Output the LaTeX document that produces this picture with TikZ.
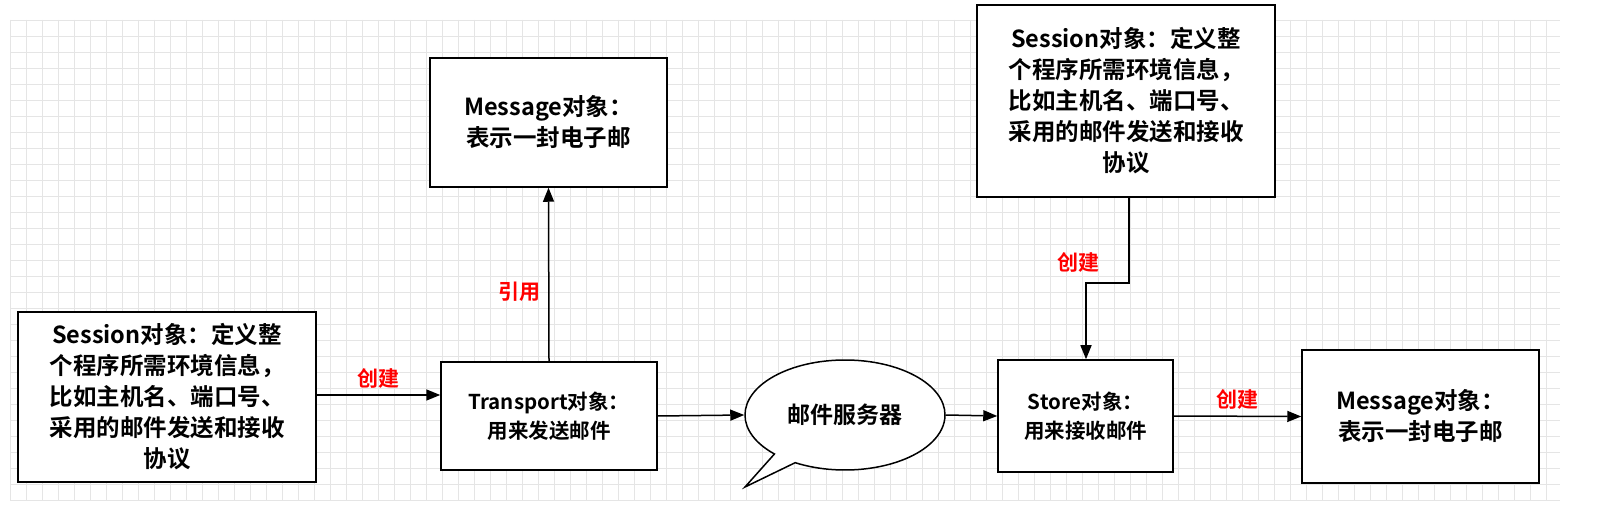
\documentclass[tikz,border=0pt]{standalone}
\usepackage{fontspec}
\setmainfont{Noto Sans CJK SC}[BoldFont={Noto Sans CJK SC Bold}]
\usetikzlibrary{arrows.meta,shapes.callouts}
\begin{document}
\begin{tikzpicture}[x=1pt,y=-1pt,
  box/.style={draw,line width=1.5pt,align=center,font=\bfseries\fontsize{23.5}{31}\selectfont,inner sep=0pt},
  arr/.style={line width=1.5pt,-{Triangle[length=14pt,width=11pt]}},
  lab/.style={text=red,font=\bfseries\fontsize{21}{24}\selectfont}]
\useasboundingbox (0,0) rectangle (1608,526);
\fill[white] (0,0) rectangle (1608,526);
\foreach \i in {0,...,96} \draw[gray!20,line width=0.6pt] (10+16*\i,20) -- (10+16*\i,500);
\foreach \j in {0,...,30} \draw[gray!20,line width=0.6pt] (10,20+16*\j) -- (1560,20+16*\j);
\node[box,minimum width=298pt,minimum height=170pt,fill=white] (s1) at (167,397) {Session对象：定义整\\个程序所需环境信息，\\比如主机名、端口号、\\采用的邮件发送和接收\\协议};
\node[box,minimum width=216pt,minimum height=108pt,fill=white,font=\bfseries\fontsize{20.5}{29}\selectfont] (tr) at (549,416) {Transport对象：\\用来发送邮件};
\node[box,minimum width=237pt,minimum height=129pt,fill=white] (m1) at (548.5,122.5) {Message对象：\\表示一封电子邮};
\node[draw,fill=white,line width=1.5pt,ellipse callout,minimum width=200pt,minimum height=110pt,callout absolute pointer={(745,487)},font=\bfseries\fontsize{23}{26}\selectfont] (bub) at (845,415) {邮件服务器};
\node[box,minimum width=175pt,minimum height=112pt,fill=white,font=\bfseries\fontsize{20.5}{29}\selectfont] (st) at (1085.5,416) {Store对象：\\用来接收邮件};
\node[box,minimum width=298pt,minimum height=192pt,fill=white] (s2) at (1126,101) {Session对象：定义整\\个程序所需环境信息，\\比如主机名、端口号、\\采用的邮件发送和接收\\协议};
\node[box,minimum width=237pt,minimum height=133pt,fill=white] (m2) at (1420.5,416.5) {Message对象：\\表示一封电子邮};
\draw[arr] (s1.east|-0,395) -- (tr.west|-0,395) node[lab,midway,above=3pt] (l1) {创建};
\draw[arr] (tr.north) -- (m1.south) node[lab,pos=0.4,left=4pt] (l2) {引用};
\draw[arr] (tr.east) -- (bub.west);
\draw[arr] (bub.east) -- (st.west);
\draw[arr] (st.east) -- (m2.west) node[lab,midway,above=3pt] (l3) {创建};
\coordinate (c1) at (1129,283);
\coordinate (c2) at (1086,283);
\draw[arr] (s2.south-|c1) -- (c1) -- (c2) -- (st.north-|c2);
\node[lab] (l4) at (1078,262) {创建};
\end{tikzpicture}
\end{document}
